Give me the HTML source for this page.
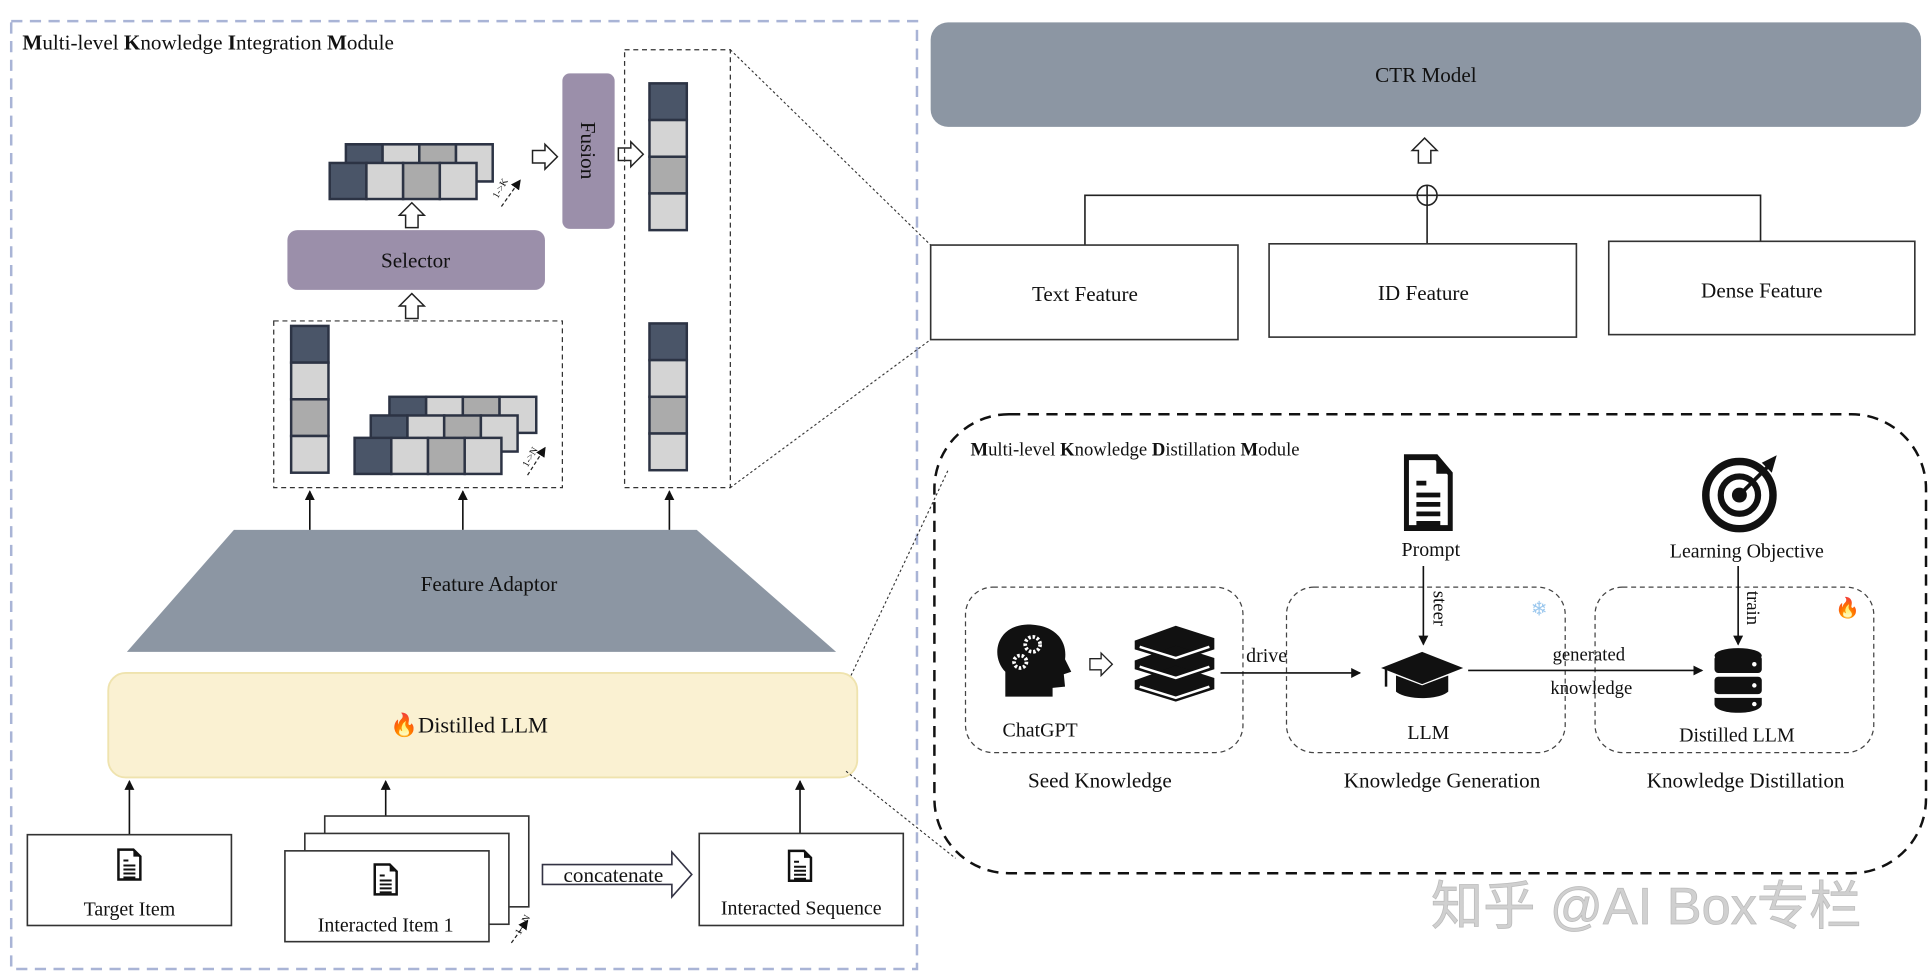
<!DOCTYPE html>
<html><head><meta charset="utf-8"><style>
html,body{margin:0;padding:0;background:#fff;}
svg{display:block;}
text{font-family:"Liberation Serif","Noto Serif CJK SC",serif;fill:#111;}
</style></head><body>
<svg width="1931" height="974" viewBox="0 0 1552 783" preserveAspectRatio="none" xmlns="http://www.w3.org/2000/svg">
<defs>
<marker id="ah" markerWidth="8" markerHeight="8" refX="7" refY="4" orient="auto" markerUnits="userSpaceOnUse"><path d="M0,0 L8,4 L0,8 Z" fill="#111"/></marker>
<g id="doc"><path d="M-11,-15 L4,-15 L11,-8 L11,15 L-11,15 Z" fill="#fff" stroke="#111" stroke-width="2.5"/><path d="M4,-15 L4,-8 L11,-8" fill="#111"/><path d="M-6,-4 h5 M-6,1 h12 M-6,5 h12 M-6,9 h12 M-6,13 h12" stroke="#111" stroke-width="2"/></g>
<g id="hup"><path d="M-5,10 L-5,0 L-10,0 L0,-10 L10,0 L5,0 L5,10 Z" fill="#fff" stroke="#222" stroke-width="1.2"/></g>
<g id="hright"><path d="M-10,-5 L0,-5 L0,-10 L10,0 L0,10 L0,5 L-10,5 Z" fill="#fff" stroke="#222" stroke-width="1.2"/></g>
<g id="row"><rect x="0" y="0" width="29.5" height="29" fill="#4a5568" stroke="#2c3344" stroke-width="2"/><rect x="29.5" y="0" width="29.5" height="29" fill="#d4d4d4" stroke="#2c3344" stroke-width="2"/><rect x="59" y="0" width="29.5" height="29" fill="#ababab" stroke="#2c3344" stroke-width="2"/><rect x="88.5" y="0" width="29.5" height="29" fill="#d4d4d4" stroke="#2c3344" stroke-width="2"/></g>
<g id="col"><rect x="0" y="0" width="30" height="29.5" fill="#4a5568" stroke="#2c3344" stroke-width="2"/><rect x="0" y="29.5" width="30" height="29.5" fill="#d4d4d4" stroke="#2c3344" stroke-width="2"/><rect x="0" y="59" width="30" height="29.5" fill="#ababab" stroke="#2c3344" stroke-width="2"/><rect x="0" y="88.5" width="30" height="29.5" fill="#d4d4d4" stroke="#2c3344" stroke-width="2"/></g>
</defs>

<!-- left module -->
<rect x="9" y="17" width="728" height="762" fill="none" stroke="#a9b4d6" stroke-width="2" stroke-dasharray="9,6"/>
<text x="18" y="40" font-size="17"><tspan font-weight="bold">M</tspan>ulti-level <tspan font-weight="bold">K</tspan>nowledge <tspan font-weight="bold">I</tspan>ntegration <tspan font-weight="bold">M</tspan>odule</text>

<!-- top stacked -->
<use href="#row" transform="translate(278,116) scale(1,1.03)"/>
<use href="#row" transform="translate(265,131)"/>
<line x1="403" y1="166" x2="418" y2="145" stroke="#222" stroke-dasharray="3,2" marker-end="url(#ah)"/>
<text x="0" y="0" font-size="8" transform="translate(400,160) rotate(-60)">1-&gt;K</text>
<use href="#hup" transform="translate(331,173)"/>
<rect x="231" y="185" width="207" height="48" rx="8" fill="#9b8faa"/>
<text x="334" y="215" font-size="17" text-anchor="middle">Selector</text>
<use href="#hup" transform="translate(331,246)"/>
<use href="#hright" transform="translate(438,126)"/>
<rect x="452" y="59" width="42" height="125" rx="6" fill="#9b8faa"/>
<text x="0" y="0" font-size="17" text-anchor="middle" transform="translate(467,121) rotate(90)">Fusion</text>
<use href="#hright" transform="translate(507,124)"/>

<!-- right dashed column box -->
<rect x="502" y="40" width="85" height="352" fill="none" stroke="#333" stroke-width="1" stroke-dasharray="4,3"/>
<use href="#col" transform="translate(522,67)"/>
<use href="#col" transform="translate(522,260)"/>

<!-- middle dashed box -->
<rect x="220" y="258" width="232" height="134" fill="none" stroke="#333" stroke-width="1" stroke-dasharray="4,3"/>
<use href="#col" transform="translate(234,262)"/>
<use href="#row" transform="translate(313,319)"/>
<use href="#row" transform="translate(298,334)"/>
<use href="#row" transform="translate(285,352)"/>
<line x1="424" y1="382" x2="438" y2="360" stroke="#222" stroke-dasharray="3,2" marker-end="url(#ah)"/>
<text x="0" y="0" font-size="8" transform="translate(424,376) rotate(-60)">1-&gt;N</text>

<!-- arrows from adaptor -->
<line x1="249" y1="426" x2="249" y2="395" stroke="#111" stroke-width="1.3" marker-end="url(#ah)"/>
<line x1="372" y1="426" x2="372" y2="395" stroke="#111" stroke-width="1.3" marker-end="url(#ah)"/>
<line x1="538" y1="426" x2="538" y2="395" stroke="#111" stroke-width="1.3" marker-end="url(#ah)"/>

<path d="M188,426 L560,426 L672,524 L102,524 Z" fill="#8c96a3"/>
<text x="393" y="475" font-size="17" text-anchor="middle">Feature Adaptor</text>

<rect x="87" y="541" width="602" height="84" rx="14" fill="#faf1d2" stroke="#efe3ae" stroke-width="1.5"/>
<text x="377" y="589" font-size="18" text-anchor="middle">🔥Distilled LLM</text>

<line x1="104" y1="671" x2="104" y2="628" stroke="#111" stroke-width="1.3" marker-end="url(#ah)"/>
<line x1="310" y1="656" x2="310" y2="628" stroke="#111" stroke-width="1.3" marker-end="url(#ah)"/>
<line x1="643" y1="670" x2="643" y2="628" stroke="#111" stroke-width="1.3" marker-end="url(#ah)"/>

<rect x="22" y="671" width="164" height="73" fill="#fff" stroke="#333" stroke-width="1.3"/>
<use href="#doc" transform="translate(104,695) scale(0.8)"/>
<text x="104" y="736" font-size="16" text-anchor="middle">Target Item</text>

<rect x="261" y="656" width="164" height="73" fill="#fff" stroke="#333" stroke-width="1.3"/>
<rect x="245" y="670" width="164" height="73" fill="#fff" stroke="#333" stroke-width="1.3"/>
<rect x="229" y="684" width="164" height="73" fill="#fff" stroke="#333" stroke-width="1.3"/>
<use href="#doc" transform="translate(310,707) scale(0.8)"/>
<text x="310" y="749" font-size="16" text-anchor="middle">Interacted Item 1</text>
<line x1="411" y1="758" x2="424" y2="740" stroke="#222" stroke-dasharray="3,2" marker-end="url(#ah)"/>
<text x="0" y="0" font-size="8" transform="translate(418,752) rotate(-60)">1-&gt;N</text>

<path d="M436,695 L540,695 L540,685 L556,703 L540,721 L540,711 L436,711 Z" fill="#fff" stroke="#334" stroke-width="1.3"/>
<text x="493" y="709" font-size="17" text-anchor="middle">concatenate</text>

<rect x="562" y="670" width="164" height="74" fill="#fff" stroke="#333" stroke-width="1.3"/>
<use href="#doc" transform="translate(643,696) scale(0.8)"/>
<text x="644" y="735" font-size="16" text-anchor="middle">Interacted Sequence</text>

<!-- dotted zoom lines -->
<g stroke="#333" stroke-width="0.9" stroke-dasharray="2,2" fill="none">
<line x1="587" y1="40" x2="748" y2="197"/>
<line x1="587" y1="392" x2="748" y2="273"/>
<line x1="684" y1="543" x2="762" y2="378"/>
<line x1="680" y1="620" x2="768" y2="690"/>
</g>

<!-- CTR -->
<rect x="748" y="18" width="796" height="84" rx="14" fill="#8c96a3"/>
<text x="1146" y="66" font-size="17" text-anchor="middle">CTR Model</text>
<use href="#hup" transform="translate(1145,121)"/>
<g stroke="#222" stroke-width="1.3" fill="none">
<path d="M872,197 L872,157 L1139,157 M1155,157 L1415,157 L1415,194 M1147,165 L1147,196"/>
<circle cx="1147" cy="157" r="8" fill="#fff"/>
<path d="M1139,157 h16 M1147,149 v16"/>
</g>
<rect x="748" y="197" width="247" height="76" fill="#fff" stroke="#333" stroke-width="1.3"/>
<text x="872" y="242" font-size="17" text-anchor="middle">Text Feature</text>
<rect x="1020" y="196" width="247" height="75" fill="#fff" stroke="#333" stroke-width="1.3"/>
<text x="1144" y="241" font-size="17" text-anchor="middle">ID Feature</text>
<rect x="1293" y="194" width="246" height="75" fill="#fff" stroke="#333" stroke-width="1.3"/>
<text x="1416" y="239" font-size="17" text-anchor="middle">Dense Feature</text>

<!-- distillation module -->
<rect x="751" y="333" width="797" height="369" rx="60" fill="none" stroke="#111" stroke-width="2" stroke-dasharray="9,6"/>
<text x="780" y="366" font-size="15"><tspan font-weight="bold">M</tspan>ulti-level <tspan font-weight="bold">K</tspan>nowledge <tspan font-weight="bold">D</tspan>istillation <tspan font-weight="bold">M</tspan>odule</text>
<g fill="none" stroke="#444" stroke-width="1" stroke-dasharray="4,3">
<rect x="776" y="472" width="223" height="133" rx="22"/>
<rect x="1034" y="472" width="224" height="133" rx="22"/>
<rect x="1282" y="472" width="224" height="133" rx="22"/>
</g>
<text x="884" y="633" font-size="17" text-anchor="middle">Seed Knowledge</text>
<text x="1159" y="633" font-size="17" text-anchor="middle">Knowledge Generation</text>
<text x="1403" y="633" font-size="17" text-anchor="middle">Knowledge Distillation</text>

<!-- head icon -->
<path d="M808,560 L808,540 C796,528 800,503 826,502 C848,502 858,515 856,530 L861,540 L855,542 L856,552 L846,553 L846,560 Z" fill="#111"/>
<circle cx="830" cy="518" r="6" fill="none" stroke="#fff" stroke-width="3" stroke-dasharray="2,1.5"/>
<circle cx="820" cy="532" r="5" fill="none" stroke="#fff" stroke-width="3" stroke-dasharray="2,1.5"/>
<text x="836" y="592" font-size="16" text-anchor="middle">ChatGPT</text>
<use href="#hright" transform="translate(885,534) scale(0.9)"/>
<!-- books -->
<g fill="#111">
<path d="M912,515 L945,503 L976,513 L976,522 L945,532 L912,522 Z"/>
<path d="M912,531 L945,519 L976,529 L976,538 L945,548 L912,538 Z"/>
<path d="M912,547 L945,535 L976,545 L976,554 L945,564 L912,554 Z"/>
</g>
<g stroke="#fff" stroke-width="2" fill="none"><path d="M916,520 L945,529 L972,520 M916,536 L945,545 L972,536 M916,552 L945,561 L972,552"/></g>

<line x1="981" y1="541" x2="1093" y2="541" stroke="#111" stroke-width="1.3" marker-end="url(#ah)"/>
<text x="1018" y="532" font-size="16" text-anchor="middle">drive</text>

<!-- prompt -->
<use href="#doc" transform="translate(1148,396) scale(1.6,1.9)"/>
<text x="1150" y="447" font-size="16" text-anchor="middle">Prompt</text>
<line x1="1144" y1="455" x2="1144" y2="518" stroke="#111" stroke-width="1.3" marker-end="url(#ah)"/>
<text x="0" y="0" font-size="15" transform="translate(1152,475) rotate(90)">steer</text>
<text x="1237" y="495" font-size="16" text-anchor="middle" style="fill:#9cc8ee">❄</text>
<!-- grad cap -->
<path d="M1110,537 L1143,524 L1176,537 L1143,550 Z" fill="#111"/>
<path d="M1122,543 L1122,556 C1130,563 1156,563 1164,556 L1164,543 L1143,551 Z" fill="#111"/>
<line x1="1114" y1="538" x2="1114" y2="552" stroke="#111" stroke-width="2"/>
<text x="1148" y="594" font-size="16" text-anchor="middle">LLM</text>

<line x1="1180" y1="539" x2="1368" y2="539" stroke="#111" stroke-width="1.3" marker-end="url(#ah)"/>
<text x="1277" y="531" font-size="15" text-anchor="middle">generated</text>
<text x="1279" y="558" font-size="15" text-anchor="middle">knowledge</text>

<!-- target -->
<circle cx="1398" cy="398" r="27" fill="none" stroke="#111" stroke-width="6"/>
<circle cx="1398" cy="398" r="15" fill="none" stroke="#111" stroke-width="5"/>
<circle cx="1398" cy="398" r="6" fill="#111"/>
<path d="M1398,398 L1424,372" stroke="#111" stroke-width="3"/>
<path d="M1416,372 L1428,366 L1424,380 Z" fill="#111"/>
<text x="1404" y="448" font-size="16" text-anchor="middle">Learning Objective</text>
<line x1="1397" y1="455" x2="1397" y2="518" stroke="#111" stroke-width="1.3" marker-end="url(#ah)"/>
<text x="0" y="0" font-size="15" transform="translate(1404,475) rotate(90)">train</text>
<text x="1485" y="494" font-size="16" text-anchor="middle">🔥</text>
<!-- database -->
<g fill="#111">
<ellipse cx="1397" cy="527" rx="19" ry="6"/>
<rect x="1378" y="527" width="38" height="14" rx="3"/>
<rect x="1378" y="544" width="38" height="14" rx="3"/>
<path d="M1378,561 h38 v5 c0,4 -8,7 -19,7 c-11,0 -19,-3 -19,-7 Z"/>
</g>
<circle cx="1410" cy="534" r="1.8" fill="#fff"/><circle cx="1410" cy="551" r="1.8" fill="#fff"/><circle cx="1410" cy="566" r="1.8" fill="#fff"/>
<text x="1396" y="596" font-size="16" text-anchor="middle">Distilled LLM</text>

<!-- watermark -->
<text x="1150" y="743" font-size="42" style="fill:#d0d0d0;font-family:'Liberation Sans','Noto Sans CJK SC',sans-serif" stroke="#bbb" stroke-width="0.6">知乎 @AI Box专栏</text>
</svg>
</body></html>
